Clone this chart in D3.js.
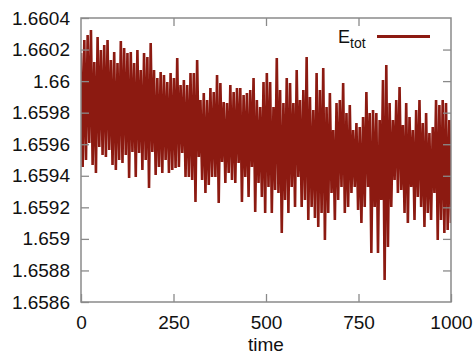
<!DOCTYPE html>
<html><head><meta charset="utf-8">
<script src="https://cdn.jsdelivr.net/npm/d3@7"></script>
<style>body{margin:0;background:#fff}svg{display:block}text{font-family:"Liberation Sans",Arial,sans-serif;fill:#111}</style>
</head><body>
<script>
// Energy values (alternating peaks and troughs)
const etot = [
1.660178,1.659456,1.660261,1.659500,1.660292,1.659608,1.660324,1.659468,1.660121,1.659418,
1.660280,1.659582,1.660197,1.659532,1.660229,1.659519,1.660261,1.659563,1.660134,1.659468,
1.660185,1.659437,1.660115,1.659500,1.660254,1.659481,1.660210,1.659532,1.660178,1.659386,
1.660185,1.659551,1.660115,1.659392,1.660197,1.659544,1.660070,1.659437,1.660178,1.659500,
1.660153,1.659323,1.660242,1.659551,1.660070,1.659405,1.660020,1.659456,1.660058,1.659418,
1.660039,1.659500,1.659994,1.659418,1.660051,1.659437,1.660020,1.659449,
1.660146,1.659456,1.659975,1.659544,1.660007,1.659392,1.659975,1.659392,1.660051,1.659373,
1.660051,1.659234,1.660134,1.659519,1.659880,1.659373,1.659925,1.659291,1.659880,1.659342,
1.659956,1.659392,1.659931,1.659392,1.660039,1.659227,1.659988,1.659487,1.659868,1.659354,
1.659861,1.659418,1.659975,1.659373,1.659931,1.659354,1.659956,1.659481,1.659956,1.659234,
1.659912,1.659392,1.659925,1.659265,1.659944,1.659456,1.660020,1.659170,1.659880,1.659354,
1.659836,1.659265,1.659994,1.659164,
1.660051,1.659329,1.659994,1.659164,1.659836,1.659310,1.660146,1.659291,1.659944,1.659037,
1.659861,1.659246,1.660020,1.659164,1.659988,1.659329,1.659861,1.659202,1.660070,1.659392,
1.659880,1.659202,1.659944,1.659246,1.660153,1.659120,1.659899,1.659202,1.659817,1.659132,
1.660051,1.659075,1.659944,1.659164,1.660083,1.658993,1.659836,1.659164,1.659925,1.659291,
1.659690,1.659120,1.659861,1.659246,1.659880,1.659329,1.659988,1.659164,1.659798,1.659202,
1.659849,1.659291,1.659690,1.659329,
1.659735,1.659183,1.659709,1.659101,1.659773,1.659202,1.659931,1.659329,1.659798,1.658911,
1.659817,1.659202,1.659798,1.658911,1.659754,1.659246,1.660007,1.658739,1.660102,1.658949,
1.659861,1.659202,1.659754,1.659373,1.659880,1.659291,1.659963,1.659310,1.659722,1.659164,
1.659861,1.659101,1.659773,1.659329,1.659690,1.659120,1.659817,1.659265,1.659880,1.659202,
1.659735,1.659075,1.659798,1.659164,1.659671,1.659120,1.659709,1.659291,1.659880,1.658993,
1.659849,1.659120,1.659880,1.659037,1.659861,1.659056,1.659754,1.659101
];
const tStart = 0, tEnd = 1000;
const xTicks = [0, 250, 500, 750, 1000];
const xTickLabels = ["0", "250", "500", "750", "1000"];
const yTicks = [1.6586, 1.6588, 1.659, 1.6592, 1.6594, 1.6596, 1.6598, 1.66, 1.6602, 1.6604];
const yTickLabels = ["1.6586","1.6588","1.659","1.6592","1.6594","1.6596","1.6598","1.66","1.6602","1.6604"];
const xLabel = "time";
const legendMain = "E", legendSub = "tot";

const W = 474, H = 355;
const L = 81, R = 451, T = 18, B = 302;
const svg = d3.select("body").append("svg").attr("width", W).attr("height", H);
const x = d3.scaleLinear().domain([tStart, tEnd]).range([L, R]);
const y = d3.scaleLinear().domain([1.6586, 1.6604]).range([B, T]);
const n = etot.length;
const times = etot.map((_, i) => tStart + i * (tEnd - tStart) / (n - 1));

svg.append("defs").append("clipPath").attr("id", "clip")
  .append("rect").attr("x", L).attr("y", T).attr("width", R - L).attr("height", B - T);

const color = "#8c1a11";
svg.append("path").datum(etot)
  .attr("clip-path", "url(#clip)")
  .attr("fill", "none").attr("stroke", color).attr("stroke-width", 2.6)
  .attr("stroke-linejoin", "miter").attr("stroke-miterlimit", 2)
  .attr("d", d3.line().x((d, i) => x(times[i])).y(d => y(d)));

const axisColor = "#8a8a8a";
function styleAxis(g) {
  g.select(".domain").remove();
  g.selectAll(".tick line").attr("stroke", axisColor).attr("stroke-width", 1.3);
  g.selectAll(".tick text").style("font-size", "19px").attr("fill", "#111")
    .attr("font-family", '"Liberation Sans",Arial,sans-serif');
}
svg.append("g").attr("transform", `translate(${L},0)`)
  .call(d3.axisLeft(y).tickValues(yTicks).tickSize(-8).tickPadding(11).tickFormat((d, i) => yTickLabels[i]))
  .call(styleAxis);
svg.append("g").attr("transform", `translate(${R},0)`)
  .call(d3.axisRight(y).tickValues(yTicks.slice(1, -1)).tickSize(-8).tickFormat(""))
  .call(styleAxis);
svg.append("g").attr("transform", `translate(0,${B})`)
  .call(d3.axisBottom(x).tickValues(xTicks).tickSize(-8).tickPadding(14).tickFormat((d, i) => xTickLabels[i]))
  .call(styleAxis);
svg.append("g").attr("transform", `translate(0,${T})`)
  .call(d3.axisTop(x).tickValues(xTicks.slice(1, -1)).tickSize(-8).tickFormat(""))
  .call(styleAxis);

svg.append("rect").attr("x", L).attr("y", T).attr("width", R - L).attr("height", B - T)
  .attr("fill", "none").attr("stroke", axisColor).attr("stroke-width", 1.5);

svg.append("text").attr("x", x(500)).attr("y", 351).attr("text-anchor", "middle")
  .style("font-size", "19px").text(xLabel);

// legend
const lg = svg.append("text").attr("x", 338).attr("y", 43).style("font-size", "18px");
lg.append("tspan").text(legendMain);
lg.append("tspan").attr("dy", 5).style("font-size", "14px").text(legendSub);
svg.append("line").attr("x1", 377).attr("x2", 430).attr("y1", 36.5).attr("y2", 36.5)
  .attr("stroke", color).attr("stroke-width", 3);
</script>
</body></html>
